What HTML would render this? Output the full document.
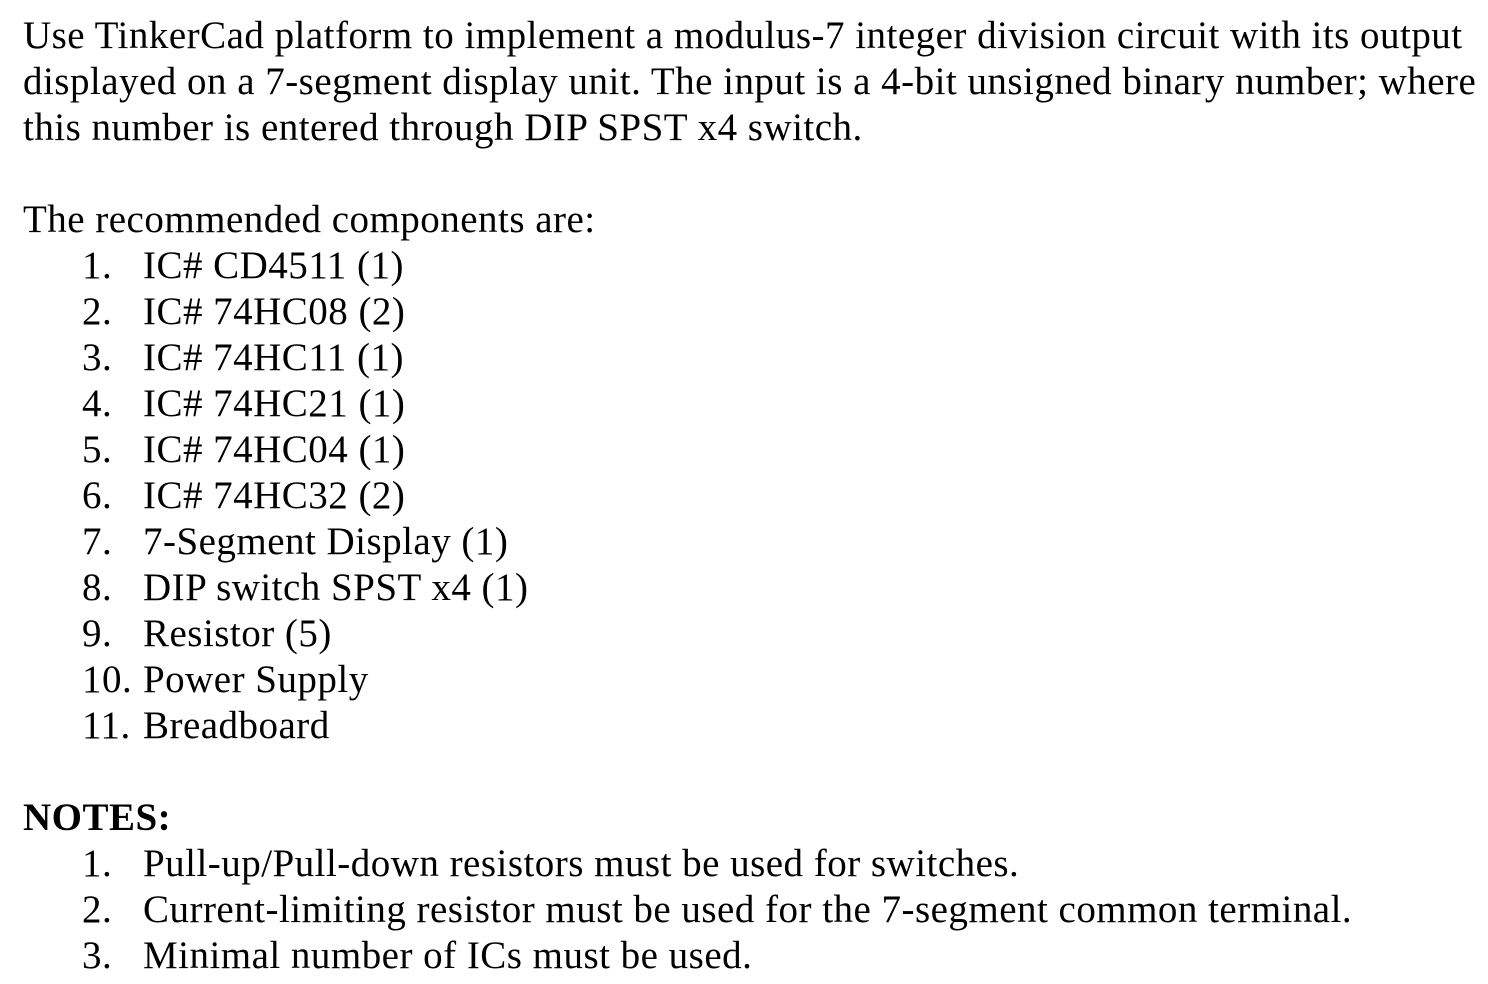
<!DOCTYPE html>
<html><head><meta charset="utf-8"><style>
body{margin:0;background:#fff;width:1488px;height:984px;overflow:hidden;font-family:"Liberation Serif",serif;font-size:39px;letter-spacing:0.48px;color:#000;}
.l{position:absolute;left:23px;white-space:pre;line-height:46px;}
.n{position:absolute;left:82px;white-space:pre;line-height:46px;}
.t{position:absolute;left:143px;white-space:pre;line-height:46px;}
</style></head><body>
<div class="l" style="top:13px">Use TinkerCad platform to implement a modulus-7 integer division circuit with its output</div>
<div class="l" style="top:59px">displayed on a 7-segment display unit. The input is a 4-bit unsigned binary number; where</div>
<div class="l" style="top:105px">this number is entered through DIP SPST x4 switch.</div>
<div class="l" style="top:197px">The recommended components are:</div>
<div class="n" style="top:243px">1.</div><div class="t" style="top:243px">IC# CD4511 (1)</div>
<div class="n" style="top:289px">2.</div><div class="t" style="top:289px">IC# 74HC08 (2)</div>
<div class="n" style="top:335px">3.</div><div class="t" style="top:335px">IC# 74HC11 (1)</div>
<div class="n" style="top:381px">4.</div><div class="t" style="top:381px">IC# 74HC21 (1)</div>
<div class="n" style="top:427px">5.</div><div class="t" style="top:427px">IC# 74HC04 (1)</div>
<div class="n" style="top:473px">6.</div><div class="t" style="top:473px">IC# 74HC32 (2)</div>
<div class="n" style="top:519px">7.</div><div class="t" style="top:519px">7-Segment Display (1)</div>
<div class="n" style="top:565px">8.</div><div class="t" style="top:565px">DIP switch SPST x4 (1)</div>
<div class="n" style="top:611px">9.</div><div class="t" style="top:611px">Resistor (5)</div>
<div class="n" style="top:657px">10.</div><div class="t" style="top:657px">Power Supply</div>
<div class="n" style="top:703px">11.</div><div class="t" style="top:703px">Breadboard</div>
<div class="l" style="top:795px;font-weight:bold">NOTES:</div>
<div class="n" style="top:841px">1.</div><div class="t" style="top:841px">Pull-up/Pull-down resistors must be used for switches.</div>
<div class="n" style="top:887px">2.</div><div class="t" style="top:887px">Current-limiting resistor must be used for the 7-segment common terminal.</div>
<div class="n" style="top:933px">3.</div><div class="t" style="top:933px">Minimal number of ICs must be used.</div>
</body></html>
